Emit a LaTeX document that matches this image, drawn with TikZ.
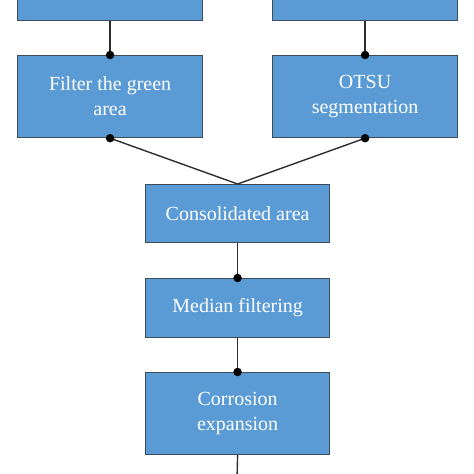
\documentclass[tikz,border=0pt]{standalone}
\usepackage{fontspec}
\setmainfont{Liberation Serif}
\definecolor{boxblue}{HTML}{5B9BD5}
\definecolor{boxedge}{HTML}{3F4C5A}
\definecolor{linegray}{HTML}{2E2E2E}
\begin{document}
\begin{tikzpicture}[x=1pt,y=-1pt,
  stepbox/.style={draw=boxedge,line width=1.2pt,fill=boxblue,text=white,
    font=\fontsize{20}{25}\selectfont,align=center,inner sep=0pt,anchor=north west},
  conn/.style={draw=linegray,line width=1.4pt},
  dotmark/.style={circle,fill=black,inner sep=0pt,minimum size=8.5pt}]
\useasboundingbox (0,0) rectangle (474,474);
\clip (0,0) rectangle (474,474);
\node[stepbox,minimum width=185pt,minimum height=60pt] (tl) at (17,-40) {};
\node[stepbox,minimum width=185pt,minimum height=60pt] (tr) at (272,-40) {};
\node[stepbox,minimum width=185pt,minimum height=82pt] (filt) at (17,55) {Filter the green\\area};
\node[stepbox,minimum width=185pt,minimum height=82pt] (otsu) at (272,55) {OTSU\\segmentation};
\node[stepbox,minimum width=184pt,minimum height=58pt] (cons) at (145,184) {Consolidated area};
\node[stepbox,minimum width=184pt,minimum height=59pt] (med) at (145,278) {Median filtering};
\node[stepbox,minimum width=184pt,minimum height=82pt] (corr) at (145,372) {Corrosion\\expansion};
\coordinate (bot) at (237,480);
\draw[conn] (tl.south) -- (filt.north);
\draw[conn] (tr.south) -- (otsu.north);
\draw[conn] (filt.south) -- (cons.north);
\draw[conn] (otsu.south) -- (cons.north);
\draw[conn] (cons.south) -- (med.north);
\draw[conn] (med.south) -- (corr.north);
\draw[conn] (corr.south) -- (bot);
\node[dotmark] (d1) at (filt.north) {};
\node[dotmark] (d2) at (otsu.north) {};
\node[dotmark] (d3) at (filt.south) {};
\node[dotmark] (d4) at (otsu.south) {};
\node[dotmark] (d5) at (med.north) {};
\node[dotmark] (d6) at (corr.north) {};
\end{tikzpicture}
\end{document}
